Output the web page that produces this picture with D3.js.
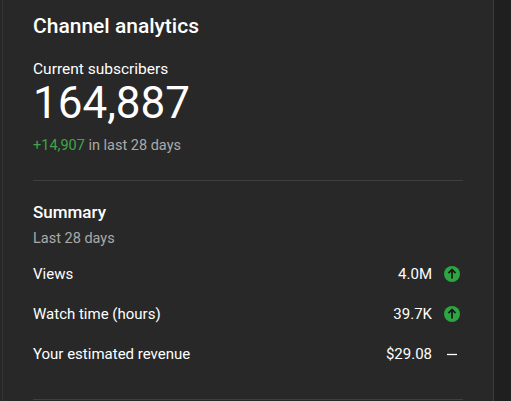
<!DOCTYPE html>
<html><head><meta charset="utf-8">
<script src="https://cdn.jsdelivr.net/npm/d3@7"></script>
<style>body{margin:0;background:#1f1f1f}svg{display:block;font-family:Roboto,sans-serif}</style>
</head><body><svg></svg>
<script>
const metricLabels = ["Views", "Watch time (hours)", "Your estimated revenue"];
const metricValues = ["4.0M", "39.7K", "$29.08"];
const metricTrend = ["up", "up", "flat"];
const subscribers = 164887;
const subscriberGain = 14907;

const width = 511, height = 401;
const svg = d3.select("svg").attr("width", width).attr("height", height);

// карточка
svg.append("rect").attr("x", 0).attr("y", -2).attr("width", 494).attr("height", height + 4)
  .attr("fill", "#282828");
svg.append("line").attr("x1", 2.5).attr("x2", 2.5).attr("y1", 0).attr("y2", height).attr("stroke", "#333");
svg.append("line").attr("x1", 493.5).attr("x2", 493.5).attr("y1", 0).attr("y2", height).attr("stroke", "#3a3a3a");

const left = 33, right = 463;
svg.append("text").attr("x", left).attr("y", 33).attr("fill", "#fff")
  .attr("font-size", 21).attr("font-weight", 500).text("Channel analytics");
svg.append("text").attr("x", left).attr("y", 74).attr("fill", "#fff")
  .attr("font-size", 15.5).text("Current subscribers");
svg.append("text").attr("x", left).attr("y", 118).attr("fill", "#fff")
  .attr("font-size", 44).text(d3.format(",")(subscribers));
const gain = svg.append("text").attr("x", left).attr("y", 150).attr("font-size", 14.5);
gain.append("tspan").attr("fill", "#3ea649").text("+" + d3.format(",")(subscriberGain));
gain.append("tspan").attr("fill", "#aaa").text(" in last 28 days");

svg.append("line").attr("x1", left).attr("x2", right).attr("y1", 180.5).attr("y2", 180.5).attr("stroke", "#3f3f3f");

svg.append("text").attr("x", left).attr("y", 218).attr("fill", "#fff")
  .attr("font-size", 17).attr("font-weight", 500).text("Summary");
svg.append("text").attr("x", left).attr("y", 243).attr("fill", "#aaa")
  .attr("font-size", 14.5).text("Last 28 days");

const y = d3.scalePoint().domain(metricLabels).range([274, 354]);
const rows = svg.selectAll("g.row").data(metricLabels).enter().append("g")
  .attr("transform", d => `translate(0,${y(d)})`);
rows.append("text").attr("x", left).attr("dy", "0.35em").attr("fill", "#fff")
  .attr("font-size", 15).text(d => d);
rows.append("text").attr("x", 432).attr("dy", "0.35em").attr("fill", "#fff")
  .attr("text-anchor", "end").attr("font-size", 15).text((d, i) => metricValues[i]);
rows.each(function(d, i) {
  const g = d3.select(this);
  if (metricTrend[i] === "up") {
    g.append("circle").attr("cx", 452).attr("cy", 0).attr("r", 8).attr("fill", "#2ba640");
    g.append("path").attr("d", "M452,4.5V-4M448.5,-0.8L452,-4.5L455.5,-0.8")
      .attr("stroke", "#1a1a1a").attr("stroke-width", 1.8).attr("fill", "none");
  } else {
    g.append("line").attr("x1", 447).attr("x2", 457).attr("y1", 0.5).attr("y2", 0.5)
      .attr("stroke", "#fff").attr("stroke-width", 1.3);
  }
});

svg.append("line").attr("x1", left).attr("x2", right).attr("y1", 399.5).attr("y2", 399.5).attr("stroke", "#3f3f3f");
</script></body></html>
